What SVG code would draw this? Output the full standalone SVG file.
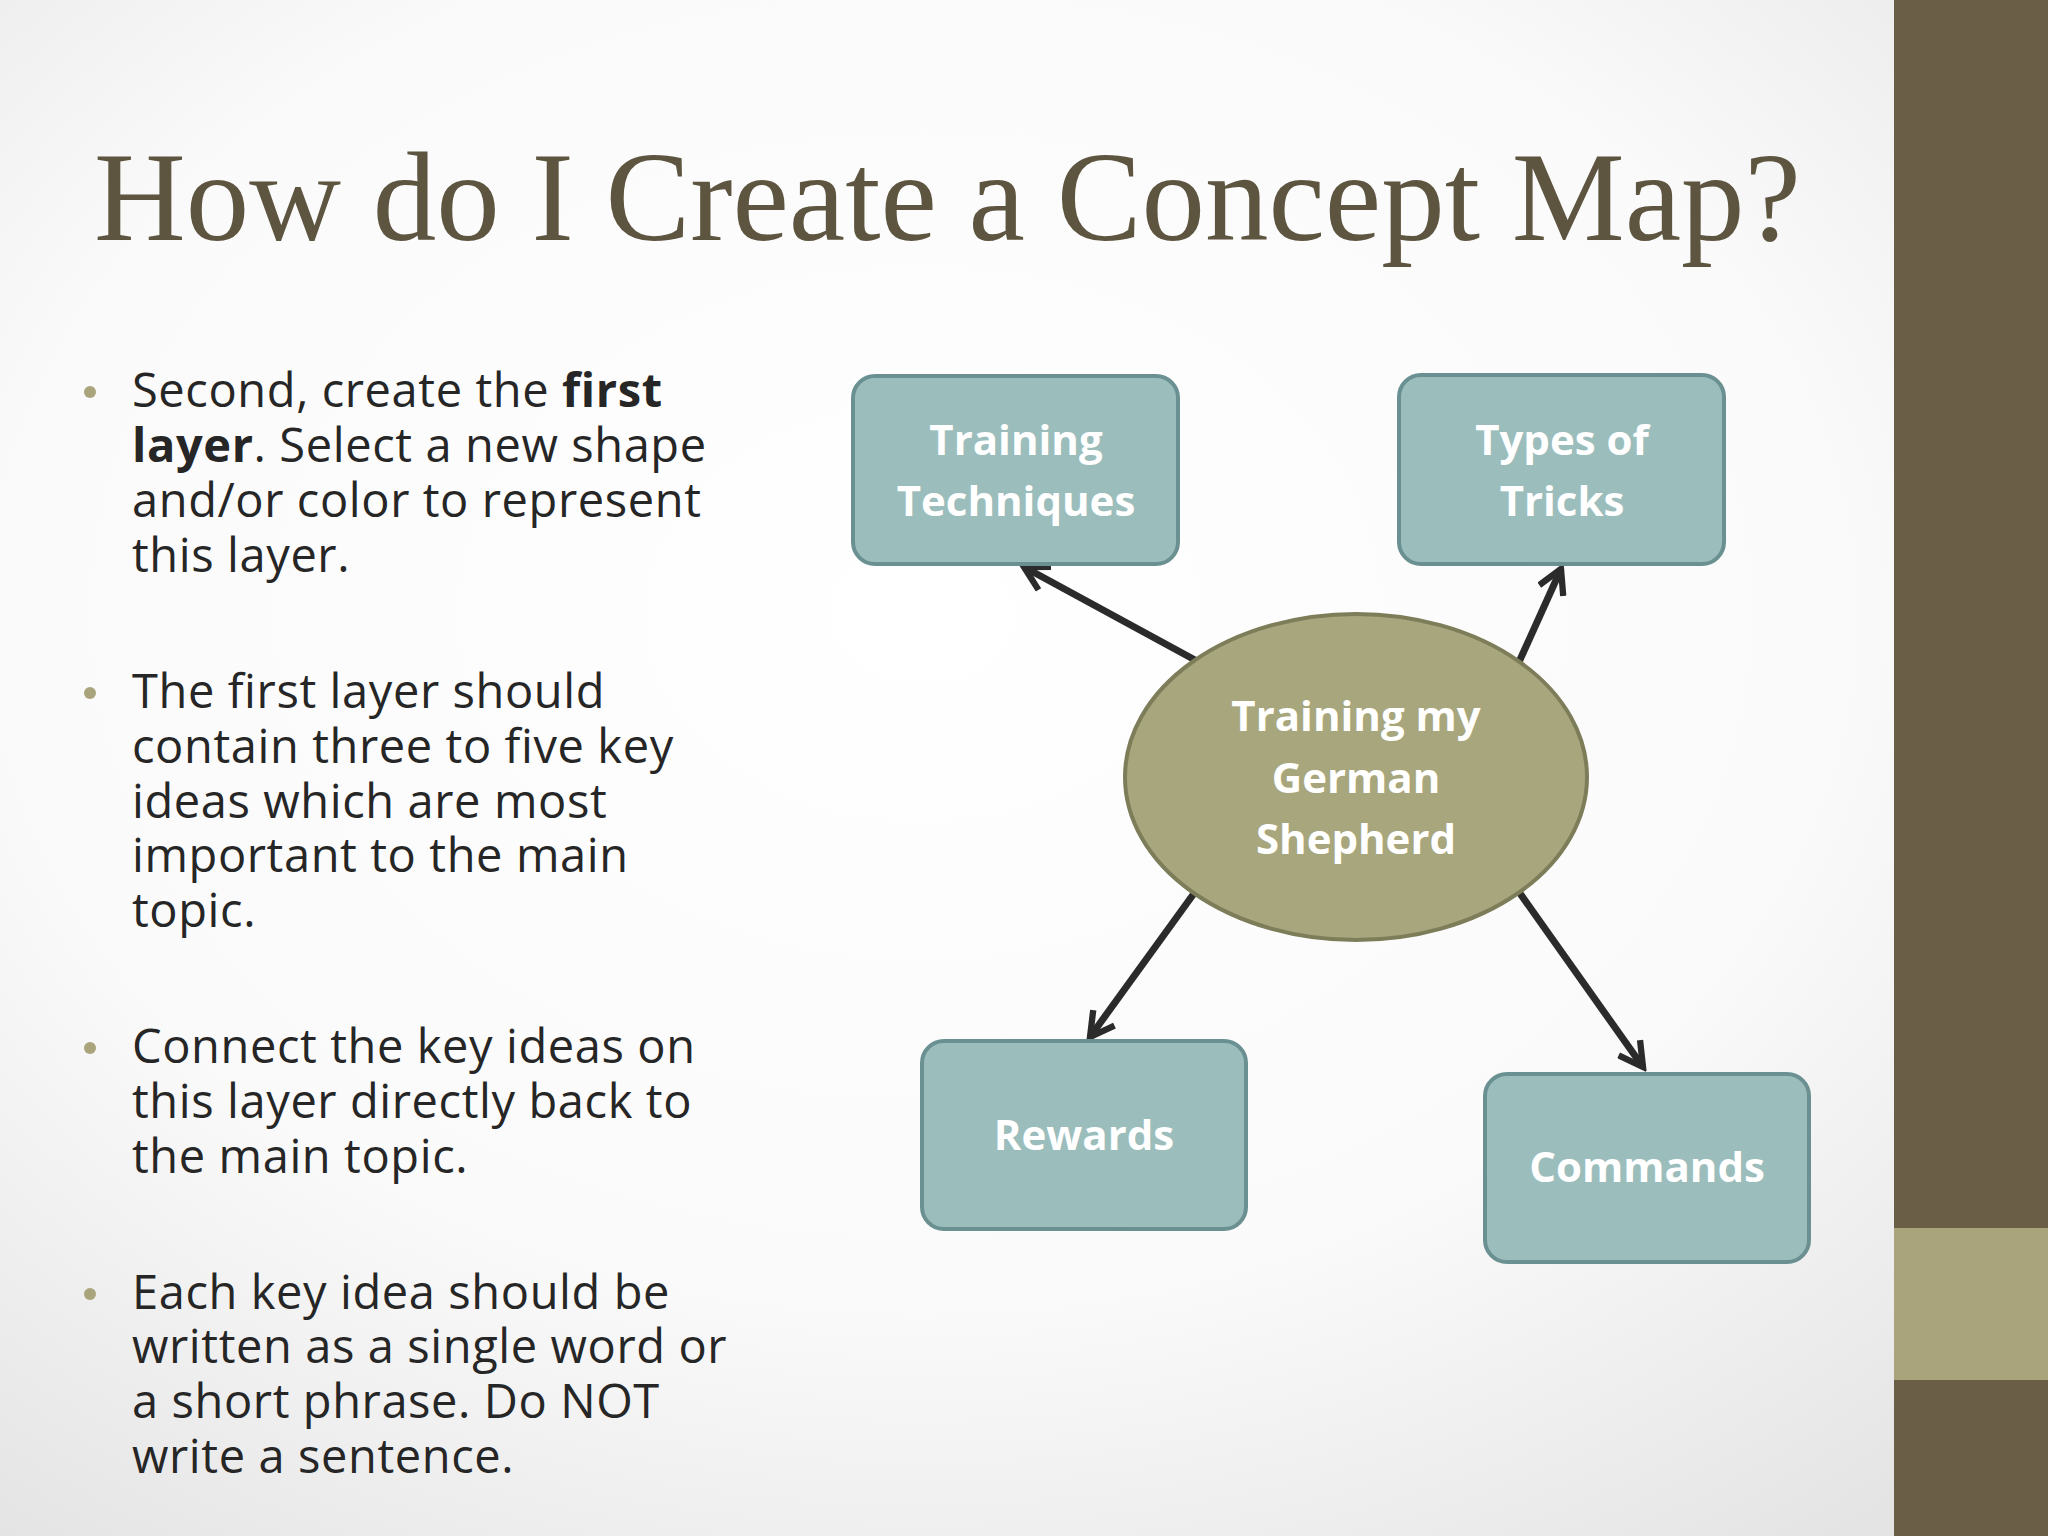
<svg xmlns="http://www.w3.org/2000/svg" width="2048" height="1536" viewBox="0 0 2048 1536">
<defs>
<radialGradient id="bg" cx="0.45" cy="0.4" r="0.75"><stop offset="0" stop-color="#ffffff"/><stop offset="0.6" stop-color="#fafafa"/><stop offset="1" stop-color="#e4e4e4"/></radialGradient>
<marker id="ah" viewBox="0 0 12 12" refX="10" refY="6" markerWidth="4.5" markerHeight="4.5" orient="auto" markerUnits="strokeWidth"><path d="M1,1 L10,6 L1,11" fill="none" stroke="#2b2b2b" stroke-width="2.4"/></marker>
<style>
.b{font-family:"Open Sans","Noto Sans",sans-serif;font-size:47px;letter-spacing:0.6px;fill:#262626}
.dot{fill:#a9a47c}
.r{fill:#9bbdbc;stroke:#6a9091;stroke-width:4}
.nt{font-family:"Open Sans","Noto Sans",sans-serif;font-size:42px;font-weight:bold;fill:#ffffff;text-anchor:middle}
.c{stroke:#2b2b2b;stroke-width:7;fill:none;marker-end:url(#ah)}
</style>
</defs>
<rect width="2048" height="1536" fill="url(#bg)"/>
<rect x="1894" y="0" width="154" height="1536" fill="#6b5e47"/>
<rect x="1894" y="1228" width="154" height="152" fill="#a9a47c"/>
<text x="94" y="240" font-family="Liberation Serif,serif" font-size="127" fill="#5e5540">How do I Create a Concept Map?</text>
<g id="bullets">
<circle class="dot" cx="90" cy="392" r="6"/><circle class="dot" cx="90" cy="693" r="6"/><circle class="dot" cx="90" cy="1048" r="6"/><circle class="dot" cx="90" cy="1294" r="6"/>
<text class="b" x="132" y="407">Second, create the <tspan font-weight="bold">first</tspan></text>
<text class="b" x="132" y="462"><tspan font-weight="bold">layer</tspan>.  Select a new shape</text>
<text class="b" x="132" y="517">and/or color to represent</text>
<text class="b" x="132" y="572">this layer.</text>
<text class="b" x="132" y="708">The first layer should</text>
<text class="b" x="132" y="763">contain three to five key</text>
<text class="b" x="132" y="818">ideas which are most</text>
<text class="b" x="132" y="872">important to the main</text>
<text class="b" x="132" y="927">topic.</text>
<text class="b" x="132" y="1063">Connect the key ideas on</text>
<text class="b" x="132" y="1118">this layer directly back to</text>
<text class="b" x="132" y="1173">the main topic.</text>
<text class="b" x="132" y="1309">Each key idea should be</text>
<text class="b" x="132" y="1363">written as a single word or</text>
<text class="b" x="132" y="1418">a short phrase.  Do NOT</text>
<text class="b" x="132" y="1473">write a sentence.</text>
</g>
<g id="connectors">
<line class="c" x1="1195" y1="660" x2="1024" y2="567"/>
<line class="c" x1="1519" y1="662" x2="1561" y2="569"/>
<line class="c" x1="1195" y1="892" x2="1090" y2="1037"/>
<line class="c" x1="1519" y1="892" x2="1643" y2="1067"/>
</g>
<g id="center"><ellipse cx="1356" cy="777" rx="231" ry="163" fill="#a8a67c" stroke="#7d7d5a" stroke-width="4"/>
<text class="nt" x="1356" y="731">Training my</text><text class="nt" x="1356" y="793">German</text><text class="nt" x="1356" y="854">Shepherd</text></g>
<g id="n1"><rect class="r" x="853" y="376" width="325" height="188" rx="22"/><text class="nt" x="1016" y="455">Training</text><text class="nt" x="1016" y="516">Techniques</text></g>
<g id="n2"><rect class="r" x="1399" y="375" width="325" height="189" rx="22"/><text class="nt" x="1562" y="455">Types of</text><text class="nt" x="1562" y="516">Tricks</text></g>
<g id="n3"><rect class="r" x="922" y="1041" width="324" height="188" rx="22"/><text class="nt" x="1084" y="1150">Rewards</text></g>
<g id="n4"><rect class="r" x="1485" y="1074" width="324" height="188" rx="22"/><text class="nt" x="1647" y="1182">Commands</text></g>
</svg>
